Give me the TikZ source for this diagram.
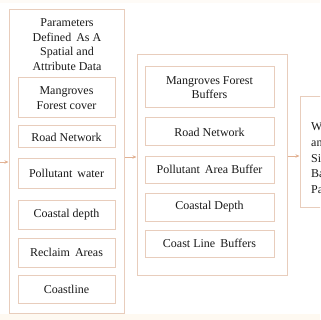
\documentclass[tikz,border=0pt]{standalone}
\usepackage{fontspec}
\setmainfont{Liberation Serif}
\usetikzlibrary{arrows.meta}
\begin{document}
\begin{tikzpicture}[x=1pt,y=-1pt,
  edge/.style={draw=boxline, line width=1pt},
  outerbox/.style={edge, rectangle, inner sep=0pt},
  itembox/.style={edge, rectangle, inner sep=0pt, text=txt, align=center,
    font=\fontsize{12}{14.5}\selectfont},
  flow/.style={draw=arrowc, line width=0.8pt, -{Stealth[length=4pt,width=3.5pt]}},
  lbl/.style={text=txt, align=center, font=\fontsize{12}{14.5}\selectfont, inner sep=0pt}]
\definecolor{boxline}{RGB}{232,205,188}
\definecolor{arrowc}{RGB}{226,178,148}
\definecolor{txt}{RGB}{25,25,25}
\definecolor{cream}{RGB}{254,249,241}
\useasboundingbox (0,0) rectangle (320,320);
\clip (0,0) rectangle (320,320);
\fill[cream] (0,313.5) rectangle (320,320);
\fill[cream!60!white] (0,0) rectangle (320,3);
% left column
\node[outerbox, minimum width=115, minimum height=303] (L) at (66.5,161.5) {};
\node[lbl] (Ltitle) at (67,44.5) {Parameters\\Defined\, As A\\Spatial and\\Attribute Data};
\node[itembox, minimum width=97, minimum height=40] (l1) at (66.5,98) {Mangroves\\Forest cover};
\node[itembox, minimum width=97, minimum height=22] (l2) at (66.5,137) {Road Network};
\node[itembox, minimum width=97, minimum height=30] (l3) at (66.5,173) {Pollutant\, water};
\node[itembox, minimum width=97, minimum height=29] (l4) at (66.5,214.5) {Coastal depth};
\node[itembox, minimum width=97, minimum height=29] (l5) at (66.5,252.5) {Reclaim\, Areas};
\node[itembox, minimum width=97, minimum height=28] (l6) at (66.5,289) {Coastline};
% middle column
\node[outerbox, minimum width=150, minimum height=220] (M) at (212,165) {};
\node[itembox, minimum width=129, minimum height=41] (m1) at (209.5,87.5) {Mangroves Forest\\Buffers};
\node[itembox, minimum width=129, minimum height=28] (m2) at (209.5,132) {Road Network};
\node[itembox, minimum width=129, minimum height=27] (m3) at (209.5,169.5) {Pollutant\, Area Buffer};
\node[itembox, minimum width=129, minimum height=28] (m4) at (209.5,207) {Coastal Depth};
\node[itembox, minimum width=129, minimum height=27] (m5) at (209.5,243.5) {Coast Line\, Buffers};
% right box
\node[outerbox, minimum width=80, minimum height=110] (R) at (340,152) {};
\node[lbl, align=left, anchor=west, font=\fontsize{12}{15.8}\selectfont] (Rtext) at (311,158) {Weighted\\and\\Site\\Based\\Parameters};
% arrows
\coordinate (start) at (0,162);
\draw[flow] (start) -- (start -| L.west);
\draw[flow] (L.east |- 0,157) -- (M.west |- 0,157);
\draw[flow] (M.east |- 0,156) -- (R.west |- 0,156);
\end{tikzpicture}
\end{document}
